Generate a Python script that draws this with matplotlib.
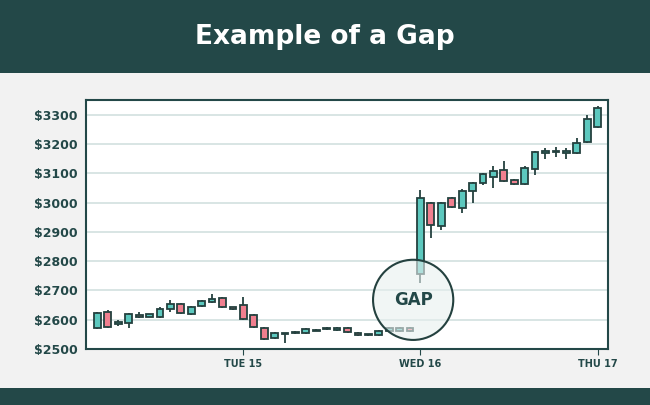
import matplotlib
matplotlib.use("Agg")
import matplotlib.pyplot as plt
from matplotlib.patches import Rectangle, Ellipse

# candle values (open, high, low, close), one per period
opens = [2572, 2627, 2584, 2589, 2616, 2611, 2609, 2637, 2654, 2620,
         2647, 2661, 2674, 2644, 2650, 2616, 2572, 2538, 2550, 2553,
         2555, 2562, 2568, 2565, 2572, 2555, 2548, 2548, 2560, 2560,
         2572, 2755, 3000, 2920, 3017, 2983, 3040, 3068, 3088, 3112,
         3078, 3065, 3116, 3171, 3174, 3171, 3170, 3209, 3259]
closes = [2623, 2575, 2593, 2620, 2609, 2618, 2637, 2654, 2623, 2644,
          2664, 2671, 2644, 2637, 2603, 2575, 2534, 2555, 2553, 2557,
          2568, 2566, 2572, 2572, 2558, 2548, 2550, 2562, 2572, 2572,
          2560, 3017, 2925, 3000, 2987, 3040, 3068, 3098, 3109, 3075,
          3065, 3120, 3174, 3174, 3178, 3175, 3205, 3286, 3324]
highs = [2628, 2633, 2598, 2624, 2625, 2621, 2642, 2666, 2657, 2647,
         2667, 2688, 2677, 2640, 2678, 2618, 2574, 2558, 2556, 2560,
         2571, 2569, 2575, 2574, 2574, 2557, 2552, 2564, 2575, 2575,
         2575, 3044, 3004, 3003, 3020, 3046, 3071, 3101, 3125, 3143,
         3080, 3124, 3178, 3188, 3192, 3186, 3220, 3300, 3330]
lows = [2570, 2572, 2578, 2572, 2606, 2609, 2606, 2626, 2620, 2617,
        2644, 2658, 2641, 2634, 2598, 2572, 2530, 2535, 2520, 2550,
        2552, 2560, 2566, 2563, 2555, 2545, 2546, 2545, 2557, 2557,
        2557, 2727, 2880, 2905, 2983, 2965, 2999, 3060, 3050, 3070,
        3062, 3060, 3095, 3150, 3155, 3150, 3165, 3205, 3255]
tick_pos = [14, 31, 48]
tick_labels = ["TUE 15", "WED 16", "THU 17"]
y_ticks = [2500, 2600, 2700, 2800, 2900, 3000, 3100, 3200, 3300]

DARK = "#234848"
GREEN = "#5cc8be"
RED = "#f07f8f"
EDGE = "#24413f"

fig = plt.figure(figsize=(6.5, 4.05), dpi=100)
fig.patch.set_facecolor("#f2f2f2")
fig.patches.append(Rectangle((0, 1 - 73 / 405), 1, 73 / 405, transform=fig.transFigure,
                             facecolor=DARK, edgecolor="none"))
fig.patches.append(Rectangle((0, 0), 1, 17 / 405, transform=fig.transFigure,
                             facecolor=DARK, edgecolor="none"))
fig.text(0.5, 1 - 37 / 405, "Example of a Gap", color="white", fontsize=19,
         fontweight="bold", ha="center", va="center")

ax = fig.add_axes([86 / 650, 56 / 405, 522 / 650, 249 / 405])
ax.set_facecolor("white")
ax.set_xlim(-1.1, 49.0)
ax.set_ylim(2500, 3351)
ax.set_yticks(y_ticks)
ax.set_yticklabels([f"${v}" for v in y_ticks], fontsize=9, fontweight="bold", color=DARK)
ax.set_xticks(tick_pos)
ax.set_xticklabels(tick_labels, fontsize=7, fontweight="bold", color=DARK)
ax.tick_params(axis="y", length=0, pad=6)
ax.tick_params(axis="x", length=4, color=DARK)
ax.grid(axis="y", color="#d5e3e2", linewidth=1.3)
ax.set_axisbelow(True)
for s in ax.spines.values():
    s.set_color(DARK)
    s.set_linewidth(1.5)

w = 0.65
for i, (o, h, l, c) in enumerate(zip(opens, highs, lows, closes)):
    col = GREEN if c >= o else RED
    ax.vlines(i, l, h, color=EDGE, linewidth=1.3, zorder=2)
    lo, hi = min(o, c), max(o, c)
    ax.add_patch(Rectangle((i - w / 2, lo), w, max(hi - lo, 4), facecolor=col,
                           edgecolor=EDGE, linewidth=1.3, zorder=3))

ax.add_patch(Ellipse((30.3, 2668), 7.7, 274, facecolor="#e8f0ef", alpha=0.6,
                     edgecolor="none", zorder=4))
ax.add_patch(Ellipse((30.3, 2668), 7.7, 274, facecolor="none",
                     edgecolor=EDGE, linewidth=1.5, zorder=5))
ax.text(30.3, 2668, "GAP", fontsize=12, fontweight="bold", color=DARK,
        ha="center", va="center", zorder=6)

fig.savefig("out.png", dpi=100, facecolor=fig.get_facecolor())
